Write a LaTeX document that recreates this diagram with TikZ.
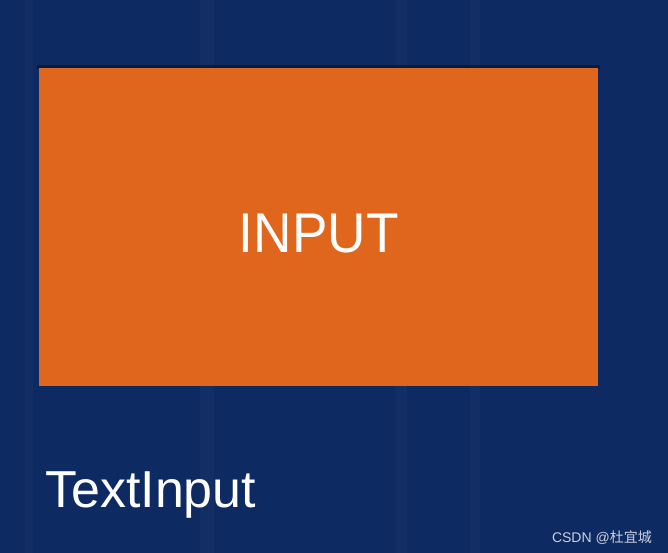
\documentclass[tikz,border=0pt]{standalone}
\usepackage{fontspec}
\setmainfont{Liberation Sans}
\newfontfamily\cjk{Noto Sans CJK SC}
\definecolor{bgblue}{RGB}{14,42,98}
\definecolor{boxorange}{RGB}{223,102,28}
\definecolor{wmgray}{RGB}{205,208,218}
\tikzset{
  inputbox/.style={fill=boxorange, draw=none},
  bigtext/.style={text=white, font=\fontsize{56}{56}\selectfont, inner sep=0pt},
  labeltext/.style={text=white, font=\fontsize{52}{52}\selectfont, inner sep=0pt, anchor=base west},
  wmtext/.style={text=wmgray, font=\fontsize{14}{14}\selectfont, inner sep=0pt, anchor=base east}
}
\begin{document}
\begin{tikzpicture}[x=1pt,y=-1pt]
\fill[bgblue] (0,0) rectangle (668,553);
\useasboundingbox (0,0) rectangle (668,553);
% faint streaks
\foreach \xx/\ww in {200/14,395/12,470/10,25/8}{
  \fill[white,opacity=0.018] (\xx,0) rectangle ++(\ww,553);
}
\fill[black,opacity=0.4] (37,65) rectangle (600,69);
\node[inputbox, minimum width=559pt, minimum height=318pt, anchor=north west, inner sep=0pt] (box) at (39,68) {};
\node[bigtext, xscale=0.95, anchor=base] (input) at ([yshift=-25pt]box.center) {INPUT};
\node[labeltext] (label) at (45,507) {TextInput};
\node[wmtext] (wm) at (652,542) {CSDN @{\cjk 杜宜城}};
\end{tikzpicture}
\end{document}
